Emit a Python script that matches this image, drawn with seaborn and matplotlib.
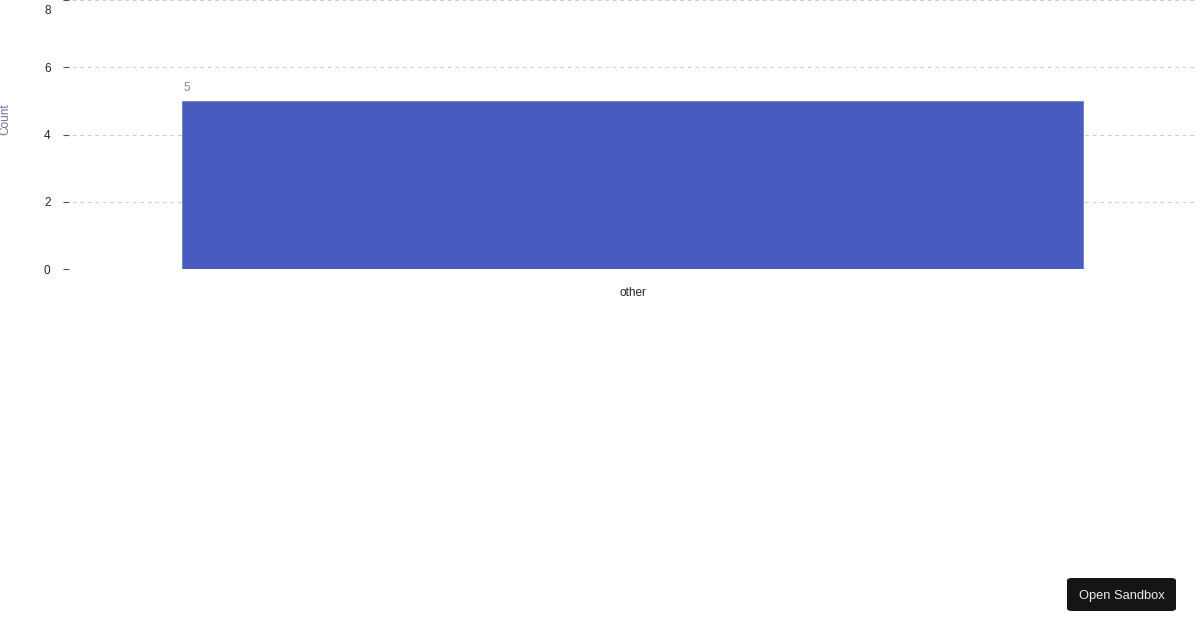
import matplotlib
matplotlib.use("Agg")
import pandas as pd
import seaborn as sns
import matplotlib.pyplot as plt
import matplotlib.transforms as mtransforms
from matplotlib.patches import FancyBboxPatch

sns.set_style("white")
plt.rcParams["font.family"] = ["Liberation Sans", "DejaVu Sans"]

# data
categories = ["other"]
counts = [5]
y_ticks = [0, 2, 4, 6, 8]

df = pd.DataFrame({"category": categories, "count": counts})

fig = plt.figure(figsize=(12, 6.3), dpi=100)
ax = fig.add_axes([69 / 1200, 1 - 269 / 630, 1127 / 1200, 269 / 630])

sns.barplot(data=df, x="category", y="count", color="#4a5bbf", saturation=1,
            width=0.8, ax=ax, zorder=2, edgecolor="#7482cc", linewidth=0.7)

ax.set_ylim(0, 8)
ax.set_yticks(y_ticks)
ax.set_xlabel("")
ax.set_ylabel("")
for s in ax.spines.values():
    s.set_visible(False)

ax.yaxis.grid(True, color="#cccccc", linewidth=0.75, linestyle=(4, (3.6, 3.6)), zorder=0)
ax.xaxis.grid(False)
ax.tick_params(axis="y", left=True, length=4.3, width=0.8, color="#555555",
               labelsize=8.5, labelcolor="#222222", pad=9)
ax.tick_params(axis="x", bottom=False, length=0, labelsize=8.5,
               labelcolor="#222222", pad=13)

# keep the top tick label inside the figure
for lab in ax.get_yticklabels():
    if lab.get_text() == "8":
        lab.set_transform(lab.get_transform() + mtransforms.ScaledTranslation(0, -9.5 / 100, fig.dpi_scale_trans))

# value labels
for bar, v in zip(ax.patches, counts):
    ax.annotate(str(v), (bar.get_x(), bar.get_height()), xytext=(1.5, 5),
                textcoords="offset points", ha="left", va="bottom",
                fontsize=8.5, color="#888888")

fig.text(5 / 1200, 1 - 119 / 630, "Count", rotation=90, ha="center", va="center",
         fontsize=8.5, color="#6b6f9a")

# sandbox button
btn = FancyBboxPatch((1067 / 1200, 1 - 611 / 630), 109 / 1200, 33 / 630,
                     boxstyle="round,pad=0,rounding_size=0.004",
                     transform=fig.transFigure, facecolor="#151515", edgecolor="none")
fig.patches.append(btn)
fig.text(1121.5 / 1200, 1 - 595 / 630, "Open Sandbox", ha="center", va="center_baseline",
         fontsize=9.3, color="#eeeeee")

fig.savefig("out.png", dpi=100)
